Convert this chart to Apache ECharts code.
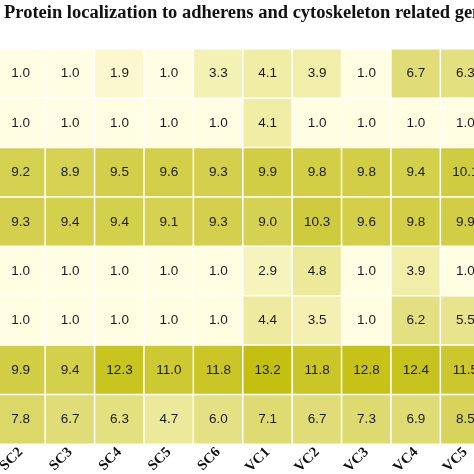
<!DOCTYPE html>
<html>
<head>
<meta charset="utf-8">
<script src="https://cdn.jsdelivr.net/npm/echarts@6/dist/echarts.min.js"></script>
<style>
  html, body { margin: 0; padding: 0; background: #fff; }
  #chart { width: 474px; height: 474px; }
</style>
</head>
<body>
<div id="chart"></div>
<script>
const samples = ['SC2', 'SC3', 'SC4', 'SC5', 'SC6', 'VC1', 'VC2', 'VC3', 'VC4', 'VC5']
const rowNames = ['g1', 'g2', 'g3', 'g4', 'g5', 'g6', 'g7', 'g8']

const row1 = [1.0, 1.0, 1.9, 1.0, 3.3, 4.1, 3.9, 1.0, 6.7, 6.3]
const row2 = [1.0, 1.0, 1.0, 1.0, 1.0, 4.1, 1.0, 1.0, 1.0, 1.0]
const row3 = [9.2, 8.9, 9.5, 9.6, 9.3, 9.9, 9.8, 9.8, 9.4, 10.1]
const row4 = [9.3, 9.4, 9.4, 9.1, 9.3, 9.0, 10.3, 9.6, 9.8, 9.9]
const row5 = [1.0, 1.0, 1.0, 1.0, 1.0, 2.9, 4.8, 1.0, 3.9, 1.0]
const row6 = [1.0, 1.0, 1.0, 1.0, 1.0, 4.4, 3.5, 1.0, 6.2, 5.5]
const row7 = [9.9, 9.4, 12.3, 11.0, 11.8, 13.2, 11.8, 12.8, 12.4, 11.5]
const row8 = [7.8, 6.7, 6.3, 4.7, 6.0, 7.1, 6.7, 7.3, 6.9, 8.5]

const rows = [row1, row2, row3, row4, row5, row6, row7, row8]
const cells = []
rows.forEach((vals, r) => vals.forEach((v, c) => cells.push([c, r, v])))

const chart = echarts.init(document.getElementById('chart'))
chart.setOption({
  animation: false,
  title: {
    text: 'Protein localization to adherens and cytoskeleton related genes',
    left: -1,
    top: -1,
    textStyle: { fontFamily: 'Liberation Serif', fontWeight: 'bold', fontSize: 18.5, color: '#111' }
  },
  grid: { left: -4, top: 49, width: 494, height: 395, outerBoundsMode: 'none', containLabel: false },
  xAxis: {
    type: 'category',
    data: samples,
    axisLine: { show: false },
    axisTick: { show: false },
    splitArea: { show: false },
    axisLabel: {
      rotate: 45,
      margin: 6,
      color: '#111',
      fontFamily: 'Liberation Serif',
      fontWeight: 'bold',
      fontSize: 14.5
    }
  },
  yAxis: {
    type: 'category',
    data: rowNames,
    inverse: true,
    show: false
  },
  visualMap: {
    show: false,
    min: 1,
    max: 13.2,
    dimension: 2,
    inRange: { color: ['#fffde2', '#f0eda6', '#dedb72', '#d0cc40', '#c4c012'] }
  },
  series: [{
    type: 'heatmap',
    data: cells,
    itemStyle: { borderColor: '#fff', borderWidth: 1.5 },
    label: {
      show: true,
      formatter: p => p.value[2].toFixed(1),
      color: '#1c1c1c',
      fontFamily: 'Liberation Sans',
      fontSize: 13.5
    }
  }]
})
</script>
</body>
</html>
